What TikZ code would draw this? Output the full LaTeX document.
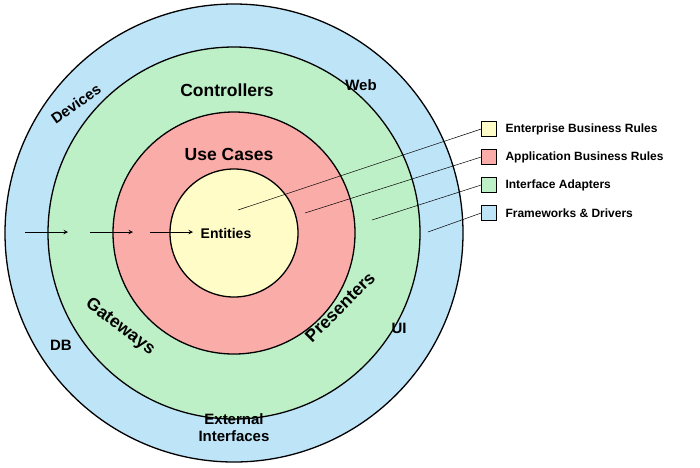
\documentclass[tikz,border=0pt]{standalone}
\usepackage{fontspec}
\setmainfont{Liberation Sans}
\definecolor{cblue}{RGB}{190,228,248}
\definecolor{cgreen}{RGB}{190,240,200}
\definecolor{cred}{RGB}{250,172,168}
\definecolor{cyel}{RGB}{255,252,200}
\begin{document}
\begin{tikzpicture}[x=1pt,y=-1pt,
 ring/.style={draw=black,line width=1.3pt},
 big/.style={font=\bfseries\fontsize{17.5}{20}\selectfont},
 mid/.style={font=\bfseries\fontsize{15}{17}\selectfont},
 leg/.style={draw=black,line width=0.6pt,minimum size=15pt,inner sep=0pt},
 legt/.style={anchor=west,font=\bfseries\fontsize{12}{14}\selectfont},
 ptr/.style={line width=0.5pt}]
\useasboundingbox (0,0) rectangle (700,467);
\coordinate (c) at (234,233);
\node[ring,circle,fill=cblue,minimum size=458pt,inner sep=0pt] (o4) at (c) {};
\node[ring,circle,fill=cgreen,minimum size=372pt,inner sep=0pt] (o3) at (c) {};
\node[ring,circle,fill=cred,minimum size=242pt,inner sep=0pt] (o2) at (c) {};
\node[ring,circle,fill=cyel,minimum size=128pt,inner sep=0pt] (o1) at (c) {};
\node[font=\bfseries\fontsize{14}{16}\selectfont] (ent) at (226,233) {Entities};
\node[big] (uc) at (229,154) {Use Cases};
\node[big] (ctl) at (227,90) {Controllers};
\node[big,rotate=-37] (gw) at (120,327) {Gateways};
\node[big,rotate=45] (pr) at (340,307) {Presenters};
\node[mid,rotate=35] (dev) at (76,104) {Devices};
\node[mid] (web) at (361,85) {Web};
\node[mid] (db) at (61,345) {DB};
\node[mid] (ui) at (399,328) {UI};
\node[mid,align=center] (ext) at (234,428) {External\\Interfaces};
\coordinate (a1) at (25,232); \coordinate (b1) at (68,232);
\coordinate (a2) at (90,232); \coordinate (b2) at (133,232);
\coordinate (a3) at (150,232); \coordinate (b3) at (193,232);
\draw[->,line width=1pt,>=stealth] (a1) -- (b1);
\draw[->,line width=1pt,>=stealth] (a2) -- (b2);
\draw[->,line width=1pt,>=stealth] (a3) -- (b3);
\node[leg,fill=cyel] (l1) at (489,129) {};
\node[leg,fill=cred] (l2) at (489,157) {};
\node[leg,fill=cgreen] (l3) at (489,185) {};
\node[leg,fill=cblue] (l4) at (489,213) {};
\node[legt] (t1) at (502,129) {Enterprise Business Rules};
\node[legt] (t2) at (502,157) {Application Business Rules};
\node[legt] (t3) at (502,185) {Interface Adapters};
\node[legt] (t4) at (502,213) {Frameworks \& Drivers};
\coordinate (p1) at (238,210);
\coordinate (p2) at (305,213);
\coordinate (p3) at (372,220);
\coordinate (p4) at (428,232);
\draw[ptr] (l1.west) -- (p1);
\draw[ptr] (l2.west) -- (p2);
\draw[ptr] (l3.west) -- (p3);
\draw[ptr] (l4.west) -- (p4);
\end{tikzpicture}
\end{document}
